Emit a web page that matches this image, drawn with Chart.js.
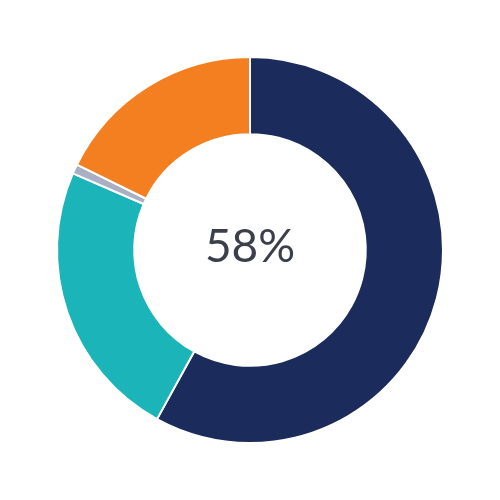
<!DOCTYPE html>
<html>
<head>
<meta charset="utf-8">
<script src="https://cdn.jsdelivr.net/npm/chart.js@4.4.1/dist/chart.umd.min.js"></script>
<style>
  html, body { margin: 0; padding: 0; background: #fff; }
  #wrap { width: 500px; height: 500px; }
</style>
</head>
<body>
<div id="wrap"><canvas id="donut"></canvas></div>
<script>
// Segment values (percent), clockwise from 12 o'clock
const labels = ['Navy', 'Teal', 'Gray', 'Orange'];
const values = [58, 23.5, 0.8, 17.7];
const colors = ['#1b2b5b', '#1bb5b9', '#aab0c4', '#f47f21'];
const centerText = '58%';

// Draw the big number in the hole
const centerLabel = {
  id: 'centerLabel',
  afterDraw(chart) {
    const meta = chart.getDatasetMeta(0);
    if (!meta.data.length) return;
    const { x, y } = meta.data[0];
    const ctx = chart.ctx;
    ctx.save();
    ctx.font = '46px Lato, "Open Sans", sans-serif';
    ctx.fillStyle = '#3b3f4a';
    ctx.textAlign = 'center';
    ctx.textBaseline = 'middle';
    ctx.fillText(centerText, x, y - 3);
    ctx.restore();
  }
};

new Chart(document.getElementById('donut'), {
  type: 'doughnut',
  data: {
    labels: labels,
    datasets: [{
      data: values,
      backgroundColor: colors,
      borderColor: '#ffffff',
      borderWidth: 2
    }]
  },
  options: {
    responsive: true,
    maintainAspectRatio: false,
    animation: false,
    cutout: '60%',
    layout: { padding: 56 },
    plugins: {
      legend: { display: false },
      tooltip: { enabled: false }
    }
  },
  plugins: [centerLabel]
});
</script>
</body>
</html>
